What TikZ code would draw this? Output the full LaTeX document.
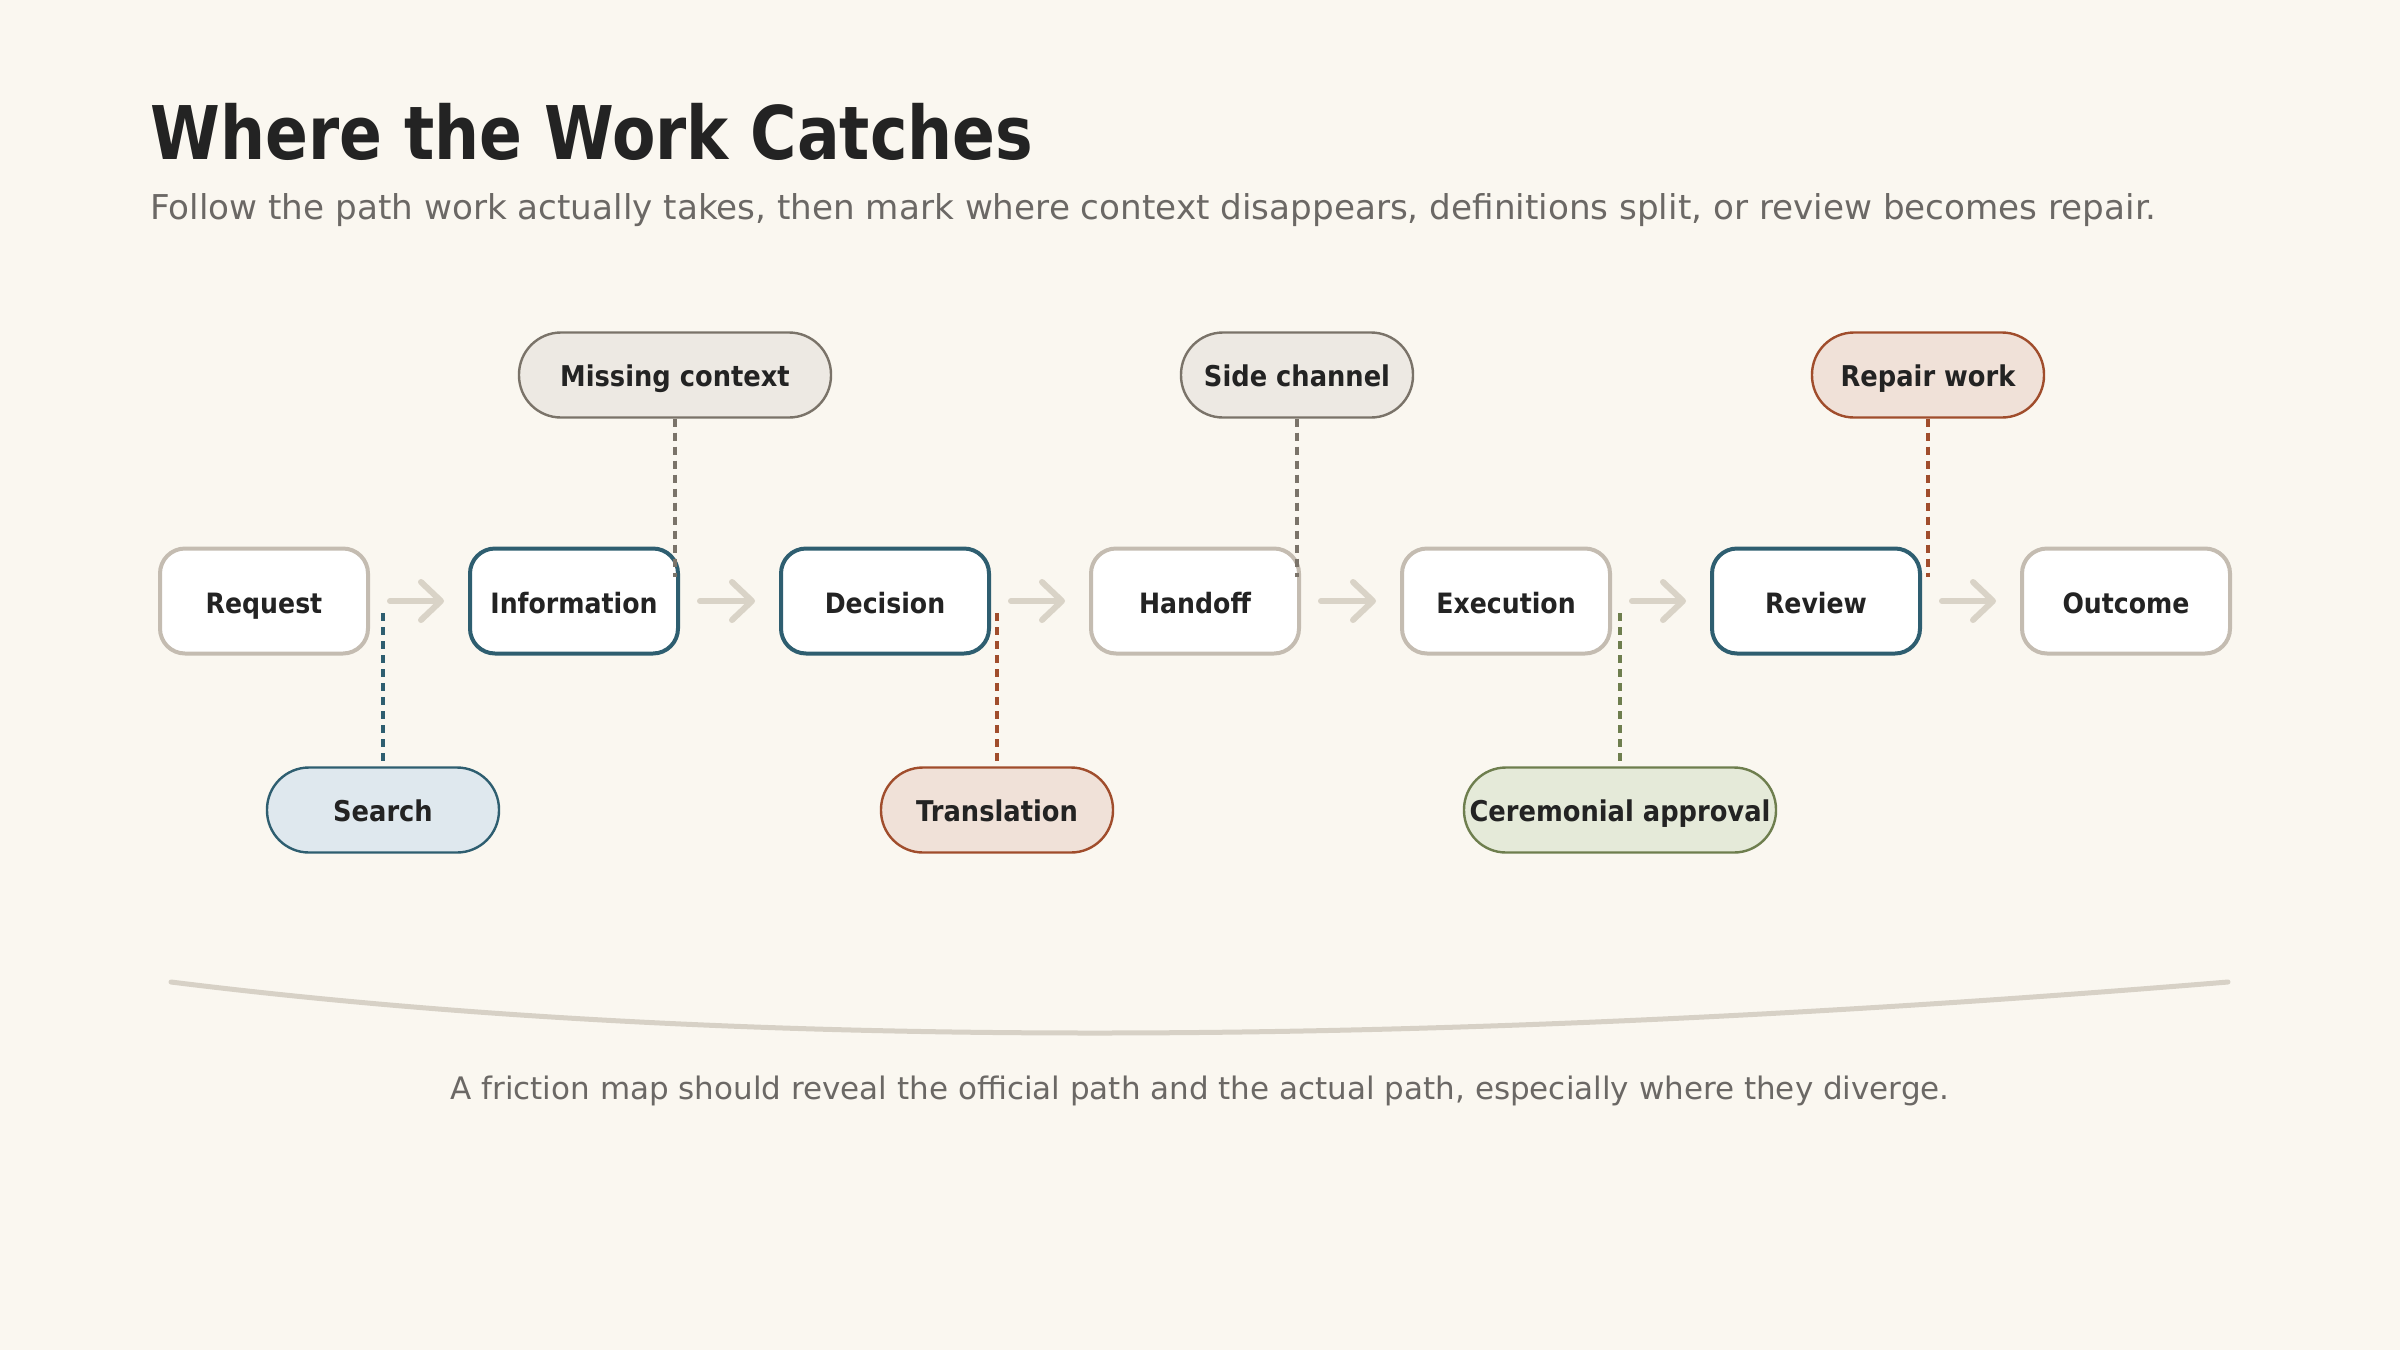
\documentclass[tikz,border=0pt]{standalone}
\usepackage{fontspec}
\setmainfont{DejaVu Sans}
\newfontfamily\narrowfont{DejaVu Sans}[FakeStretch=0.9]
\newfontfamily\titlefont{DejaVu Sans}[FakeStretch=0.855]
\usetikzlibrary{arrows.meta}
\definecolor{bg}{HTML}{FAF7F0}
\definecolor{ink}{HTML}{232323}
\definecolor{muted}{HTML}{6B6865}
\definecolor{neutral}{HTML}{C4BCB1}
\definecolor{teal}{HTML}{2E5E70}
\definecolor{flow}{HTML}{D9D3C7}
\definecolor{greyline}{HTML}{7A7369}
\definecolor{greyfill}{HTML}{EDE9E3}
\definecolor{rust}{HTML}{A04D2C}
\definecolor{rustfill}{HTML}{F0E1D8}
\definecolor{bluefill}{HTML}{DFE8EE}
\definecolor{olive}{HTML}{6E7E4E}
\definecolor{olivefill}{HTML}{E5EAD9}
\definecolor{arc}{HTML}{D7D1C6}
\tikzset{
  stepbox/.style={draw=neutral, fill=white, line width=2pt, rounded corners=12.5pt,
    minimum width=104pt, minimum height=52.5pt, inner sep=0pt,
    text height=12.5pt, text depth=0.5pt,
    font=\narrowfont\fontsize{14}{17}\selectfont\bfseries, text=ink},
  keybox/.style={stepbox, draw=teal},
  pill/.style={line width=1.2pt, rounded corners=21pt, minimum height=42.5pt,
    minimum width=116pt, inner sep=1pt, text height=11.5pt, text depth=0.5pt,
    font=\narrowfont\fontsize{14.3}{17}\selectfont\bfseries, text=ink},
  greypill/.style={pill, draw=greyline, fill=greyfill},
  rustpill/.style={pill, draw=rust, fill=rustfill},
  bluepill/.style={pill, draw=teal, fill=bluefill},
  olivepill/.style={pill, draw=olive, fill=olivefill},
  flowarrow/.style={draw=flow, line width=3pt, line cap=round,
    -{Straight Barb[round, length=10pt, width=19pt]}},
  conn/.style={line width=1.6pt, dash pattern=on 4pt off 3pt},
}
\begin{document}
\begin{tikzpicture}[x=0.5pt, y=-0.5pt]
\fill[bg] (0,0) rectangle (2400,1350);
\useasboundingbox (0,0) rectangle (2400,1350);

\node[anchor=base west, inner sep=0pt, text=ink, font=\titlefont\fontsize{37}{44}\selectfont\bfseries] (title) at (150,159) {Where the Work Catches};
\node[anchor=base west, inner sep=0pt, text=muted, font=\fontsize{17.1}{21}\selectfont] (subtitle) at (150,219) {Follow the path work actually takes, then mark where context disappears, definitions split, or review becomes repair.};

% main steps
\node[stepbox] (request) at (264,601) {Request};
\node[keybox] (information) at (574,601) {Information};
\node[keybox] (decision) at (885,601) {Decision};
\node[stepbox] (handoff) at (1195,601) {Handoff};
\node[stepbox] (execution) at (1506,601) {Execution};
\node[keybox] (review) at (1816,601) {Review};
\node[stepbox] (outcome) at (2126,601) {Outcome};

\foreach \a/\b in {request/information, information/decision, decision/handoff, handoff/execution, execution/review, review/outcome}
  \draw[flowarrow] ([xshift=10pt]\a.east) -- ([xshift=-12pt]\b.west);

% callouts above
\node[greypill, minimum width=156pt] (missing) at (675,375) {Missing context};
\node[greypill] (side) at (1297,375) {Side channel};
\node[rustpill] (repair) at (1928,375) {Repair work};
% callouts below
\node[bluepill] (search) at (383,810) {Search};
\node[rustpill] (translation) at (997,810) {Translation};
\node[olivepill, minimum width=156pt] (ceremonial) at (1620,810) {Ceremonial approval};

\coordinate (missingend) at (675,577);
\coordinate (sideend) at (1297,577);
\coordinate (repairend) at (1928,577);
\coordinate (searchstart) at (383,613);
\coordinate (translationstart) at (997,613);
\coordinate (ceremonialstart) at (1620,613);

\draw[conn, draw=greyline] (missing.south) -- (missingend);
\draw[conn, draw=greyline] (side.south) -- (sideend);
\draw[conn, draw=rust] (repair.south) -- (repairend);
\draw[conn, draw=teal] (searchstart) -- (search.north);
\draw[conn, draw=rust] (translationstart) -- (translation.north);
\draw[conn, draw=olive] (ceremonialstart) -- (ceremonial.north);

% divergence arc
\coordinate (arcl) at (171,982);
\coordinate (arcr) at (2228,982);
\draw[arc, line width=2.5pt, line cap=round] (arcl) .. controls (717,1050) and (1403,1050) .. (arcr);

\node[anchor=center, inner sep=0pt, text=muted, font=\fontsize{15.5}{19}\selectfont] (footer) at (1200,1091) {A friction map should reveal the official path and the actual path, especially where they diverge.};
\end{tikzpicture}
\end{document}
